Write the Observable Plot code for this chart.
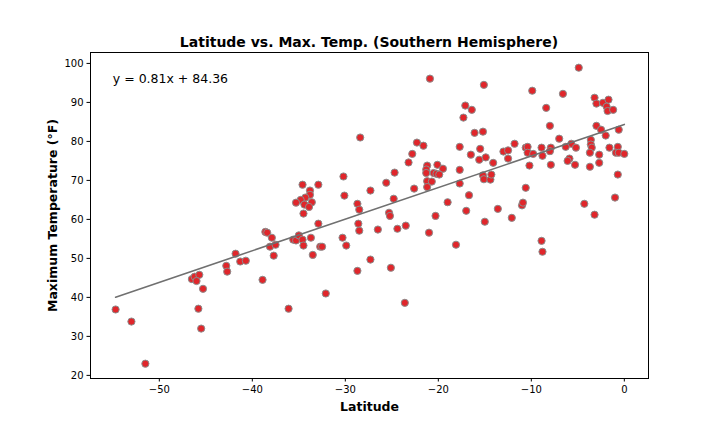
<!DOCTYPE html>
<html>
<head>
<meta charset="utf-8">
<script src="https://cdn.jsdelivr.net/npm/d3@7"></script>
<script src="https://cdn.jsdelivr.net/npm/@observablehq/plot@0.6"></script>
<style>
  html, body { margin: 0; padding: 0; background: #fff; }
  body { width: 720px; height: 432px; overflow: hidden; font-family: "DejaVu Sans", sans-serif; }
  #title { box-sizing: border-box; height: 44px; padding-top: 34px; line-height: 16px;
           margin-left: 90px; width: 558px; text-align: center; font-size: 14px; font-weight: bold; color: #000; white-space: nowrap; }
  #chart svg { display: block; }
</style>
</head>
<body>
<div id="title">Latitude vs. Max. Temp. (Southern Hemisphere)</div>
<div id="chart"></div>
<script>
const titleText = "Latitude vs. Max. Temp. (Southern Hemisphere)";
const xLabel = "Latitude";
const yLabel = "Maximum Temperature (°F)";

const lats = [
  -54.7, -53.0, -51.5, -46.5, -46.2, -45.7, -46.0, -45.3, -45.8, -45.5,
  -42.8, -42.7, -41.8, -41.3, -40.7, -38.9, -38.6, -38.4, -37.9, -38.1,
  -37.5, -37.7, -36.1, -34.6, -32.9, -33.8, -33.8, -34.3, -34.8, -35.3,
  -33.6, -34.4, -33.9, -34.5, -30.2, -30.1, -32.9, -28.7, -28.5, -28.6,
  -28.5, -27.3, -25.6, -24.7, -24.8, -25.3, -25.2, -26.5, -24.4, -35.6,
  -35.3, -35.0, -34.6, -33.7, -34.5, -32.7, -32.5, -30.3, -29.9, -32.1,
  -28.7, -27.3, -25.1, -23.6, -33.5, -21.0, -18.1, -20.3, -17.0, -19.0,
  -23.5, -28.4, -22.8, -23.2, -21.2, -20.1, -19.5, -21.3, -21.3, -20.5,
  -20.2, -19.9, -21.2, -20.7, -21.2, -22.6, -17.7, -17.7, -16.5, -15.6,
  -14.9, -14.1, -13.0, -12.5, -12.5, -15.2, -15.1, -14.4, -14.3, -16.7,
  -13.6, -12.1, -15.0, -11.0, -10.9, -20.9, -15.1, -17.1, -16.4, -17.3,
  -16.1, -15.2, -22.3, -21.6, -17.7, -15.5, -11.8, -4.9, -9.9, -6.6,
  -8.4, -3.2, -3.0, -2.3, -1.7, -1.9, -1.8, -1.2, -8.0, -3.0,
  -2.5, -0.6, -2.0, -7.0, -3.6, -5.7, -6.3, -5.2, -3.6, -3.5,
  -1.6, -0.7, -10.6, -10.4, -8.9, -7.9, -10.4, -9.8, -8.8, -8.0,
  -10.2, -7.9, -5.9, -6.1, -5.3, -3.7, -2.7, -2.7, -3.7, -0.9,
  -0.6, 0.0, -0.7, -10.6, -4.3, -1.0, -3.2, -8.9, -8.8
];
const maxTemps = [
  36.9, 33.8, 23.0, 44.7, 45.3, 45.8, 44.2, 42.2, 37.1, 32.0,
  48.1, 46.6, 51.2, 49.2, 49.4, 44.5, 56.8, 56.6, 55.3, 53.0,
  53.5, 50.7, 37.1, 68.9, 68.9, 67.4, 66.3, 65.6, 65.0, 64.3,
  64.4, 63.8, 63.2, 61.5, 71.0, 66.1, 58.9, 64.0, 62.5, 58.9,
  57.1, 67.4, 69.4, 72.0, 65.3, 61.7, 60.9, 57.4, 57.6, 54.8,
  54.6, 55.9, 54.8, 55.3, 53.3, 53.0, 53.0, 55.3, 53.3, 41.0,
  46.8, 49.7, 47.6, 38.6, 50.9, 56.6, 53.5, 60.9, 62.2, 64.4,
  58.4, 81.0, 76.8, 74.6, 73.8, 74.0, 73.0, 72.8, 71.9, 71.9,
  71.7, 71.5, 69.8, 69.7, 68.3, 67.9, 72.7, 69.2, 76.6, 75.3,
  75.9, 74.5, 77.4, 77.7, 75.6, 71.3, 70.3, 70.2, 71.5, 66.2,
  62.7, 60.4, 59.4, 63.6, 64.3, 96.1, 94.5, 89.2, 88.1, 86.1,
  82.2, 82.5, 79.7, 78.9, 78.6, 78.1, 79.4, 98.9, 93.0, 92.2,
  88.6, 91.2, 89.7, 89.9, 90.7, 88.9, 87.8, 88.1, 84.0, 84.0,
  83.0, 83.0, 81.5, 80.7, 80.4, 79.4, 78.6, 78.4, 79.2, 78.4,
  78.4, 78.6, 78.4, 78.6, 78.4, 78.4, 77.1, 76.8, 76.3, 77.5,
  73.8, 74.0, 75.6, 75.0, 74.0, 77.1, 76.6, 74.5, 73.5, 77.1,
  77.1, 76.8, 71.5, 68.1, 64.0, 65.6, 61.2, 54.5, 51.7
];

const slope = 0.81;
const intercept = 84.36;
const equationText = "y = 0.81x + 84.36";
const equationAt = [-55, 95];

const xTicks = [-50, -40, -30, -20, -10, 0];
const yTicks = [20, 30, 40, 50, 60, 70, 80, 90, 100];

const points = lats.map((lat, i) => ({lat, temp: maxTemps[i]}));
const xExt = d3.extent(lats);
const fitLine = xExt.map(x => ({lat: x, temp: slope * x + intercept}));

const fmt = d => (d < 0 ? "\u2212" + Math.abs(d) : String(d));

const chart = Plot.plot({
  width: 720,
  height: 388,
  marginLeft: 90,
  marginRight: 72,
  marginTop: 8,
  marginBottom: 54,
  style: {fontFamily: "DejaVu Sans, sans-serif", fontSize: "10px", color: "#000", background: "#fff"},
  x: {domain: [-57.4, 2.6], label: null},
  y: {domain: [19.2, 102.8], label: null},
  marks: [
    Plot.axisX(xTicks, {tickSize: 3.5, tickPadding: 3.5, tickFormat: fmt, fontSize: 10, stroke: "#000", fill: "#000"}),
    Plot.axisY(yTicks, {tickSize: 3.5, tickPadding: 3.5, tickFormat: fmt, fontSize: 10, stroke: "#000", fill: "#000"}),
    Plot.dot(points, {x: "lat", y: "temp", r: 3.6, fill: "#e0262b", stroke: "#8c8c8c", strokeWidth: 1}),
    Plot.line(fitLine, {x: "lat", y: "temp", stroke: "#707070", strokeWidth: 1.6}),
    Plot.text([equationText], {x: () => equationAt[0], y: () => equationAt[1], text: d => d,
      textAnchor: "start", lineAnchor: "bottom", fontSize: 12.5, fill: "#000"}),
    Plot.text([xLabel], {frameAnchor: "bottom", dy: 32, text: d => d, fontSize: 12.5, fontWeight: "bold", fill: "#000"}),
    Plot.text([yLabel], {frameAnchor: "left", dx: -38, rotate: -90, textAnchor: "middle", text: d => d, fontSize: 12.5, fontWeight: "bold", fill: "#000"}),
    Plot.frame({stroke: "#000", strokeWidth: 1})
  ]
});
document.getElementById("chart").appendChild(chart);
</script>
</body>
</html>
